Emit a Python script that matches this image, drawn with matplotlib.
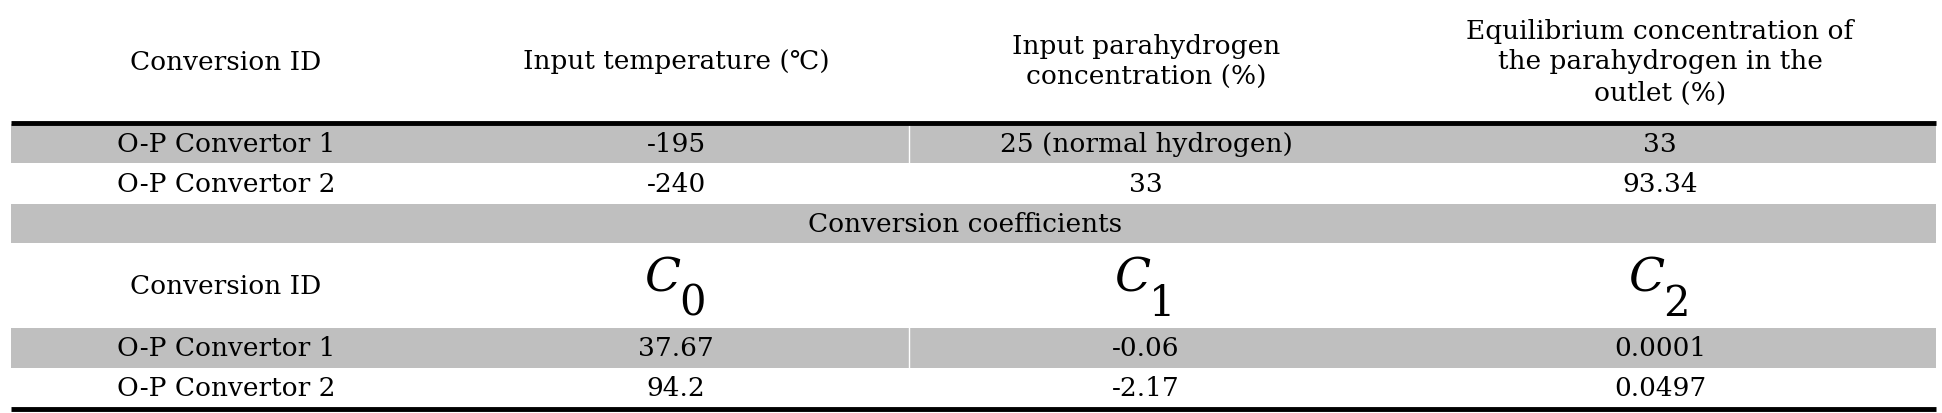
import matplotlib
matplotlib.use("Agg")
import matplotlib.pyplot as plt

headers1 = ["Conversion ID", "Input temperature (℃)", "Input parahydrogen\nconcentration (%)",
            "Equilibrium concentration of\nthe parahydrogen in the\noutlet (%)"]
rows1 = [["O-P Convertor 1", "-195", "25 (normal hydrogen)", "33"],
         ["O-P Convertor 2", "-240", "33", "93.34"]]
section_title = "Conversion coefficients"
headers2 = ["Conversion ID", ("C", "0"), ("C", "1"), ("C", "2")]
rows2 = [["O-P Convertor 1", "37.67", "-0.06", "0.0001"],
         ["O-P Convertor 2", "94.2", "-2.17", "0.0497"]]

W, H = 1942, 414
fig = plt.figure(figsize=(W/100, H/100), dpi=100)
ax = fig.add_axes([0, 0, 1, 1])
ax.set_xlim(0, W); ax.set_ylim(H, 0); ax.axis("off")

FONT = ["DejaVu Serif"]
FS = 19
grey = "#bfbfbf"
L, R = 11, 1936
centers = [226, 676, 1146, 1660]

def band(y0, y1, dividers=True):
    ax.add_patch(plt.Rectangle((L, y0), R-L, y1-y0, color=grey, lw=0, zorder=0))
    if dividers:
        ax.plot([909, 909], [y0, y1], color="white", lw=1, zorder=1)

def txt(x, y, s, fs=FS, **kw):
    ax.text(x, y, s, ha="center", va="center", fontsize=fs, family=FONT,
            linespacing=1.3, **kw)

# header 1
for c, h in zip(centers, headers1):
    txt(c, 62, h)
ax.plot([L, R], [124, 124], color="black", lw=3.5, solid_capstyle="butt")

# data rows 1
ys1 = [(125, 164), (164, 205)]
for i, (row, (y0, y1)) in enumerate(zip(rows1, ys1)):
    if i == 0:
        band(y0, y1)
    for c, v in zip(centers, row):
        txt(c, (y0+y1)/2, v)

# section title
band(205, 244, dividers=False)
txt(W/2 - 6, 225, section_title)

# header 2
txt(centers[0], 287, headers2[0])
for c, h in zip(centers[1:], headers2[1:]):
    ax.text(c-14, 279, h[0], ha="center", va="center", fontsize=34,
            family=["DejaVu Serif"], style="italic")
    ax.text(c+16, 304, h[1], ha="center", va="center", fontsize=30, family=FONT)

# data rows 2
ys2 = [(329, 369), (369, 408)]
for i, (row, (y0, y1)) in enumerate(zip(rows2, ys2)):
    if i == 0:
        band(y0, y1)
    for c, v in zip(centers, row):
        txt(c, (y0+y1)/2, v)
ax.plot([L, R], [410, 410], color="black", lw=3.5, solid_capstyle="butt")

fig.savefig("out.png", dpi=100)
